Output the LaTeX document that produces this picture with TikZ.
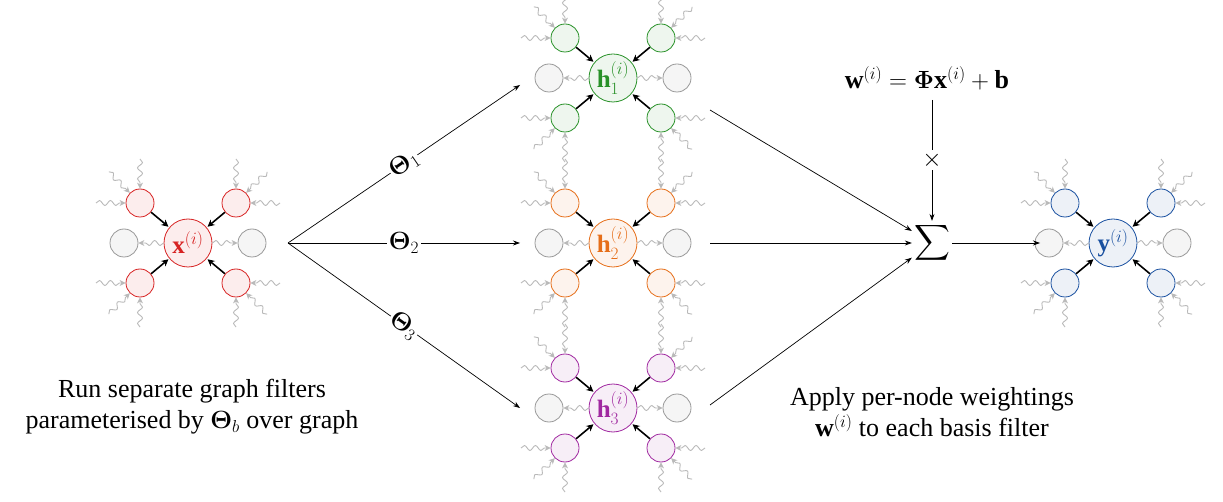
\documentclass[tikz,border=0pt]{standalone}
\usepackage{fontspec}
\setmainfont{Liberation Serif}
\usepackage{amsmath}
\usetikzlibrary{arrows.meta,decorations.pathmorphing,calc}
\definecolor{cR}{RGB}{215,35,35}
\definecolor{cG}{RGB}{40,145,40}
\definecolor{cO}{RGB}{230,110,25}
\definecolor{cP}{RGB}{160,40,160}
\definecolor{cB}{RGB}{25,80,160}
\tikzset{
 big/.style={circle,minimum size=48pt,inner sep=0pt,line width=0.8pt},
 small/.style={circle,minimum size=28pt,inner sep=0pt,line width=0.8pt},
 graynode/.style={small,draw=gray!80,fill=gray!8},
 thickarr/.style={line width=1.6pt,-{Stealth[length=7pt,width=7pt]},shorten >=1pt},
 snakearr/.style={gray!55,line width=0.9pt,-{Stealth[length=6pt,width=6pt]},decorate,decoration={snake,amplitude=2.5pt,segment length=11pt,post length=6pt}},
 arr/.style={line width=0.7pt,-{Stealth[length=7pt,width=5pt]}},
 lab/.style={font=\fontsize{26}{31}\selectfont,align=center}
}
\newcommand\clus[5]{%
\begin{scope}[shift={(#2,#3)}]
\node[big,draw=#4,fill=#4!8,text=#4,font=\fontsize{25}{30}\selectfont] (#1) at (0,0) {#5};
\node[graynode] (#1l) at (-64,0) {};
\node[graynode] (#1r) at (64,0) {};
\draw[snakearr] (#1) -- (#1l);
\draw[snakearr] (#1) -- (#1r);
\foreach \n/\dx/\dy/\a in {tl/-48/-40/225, tr/48/-40/315, bl/-48/40/135, br/48/40/45} {
 \node[small,draw=#4,fill=#4!8] (#1\n) at (\dx,\dy) {};
 \draw[thickarr] (#1\n) -- (#1);
 \foreach \o in {-45,0,45} \draw[snakearr] ($(#1\n)+(\a+\o:44)$) -- (#1\n);
}
\end{scope}}
\begin{document}
\begin{tikzpicture}[x=1pt,y=-1pt]
\useasboundingbox (0,0) rectangle (1223,502);
\clus{x}{188}{243}{cR}{$\mathbf{x}^{(i)}$}
\clus{ha}{613}{78}{cG}{$\mathbf{h}_1^{(i)}$}
\clus{hb}{613}{243}{cO}{$\mathbf{h}_2^{(i)}$}
\clus{hc}{613}{408}{cP}{$\mathbf{h}_3^{(i)}$}
\clus{y}{1113}{243}{cB}{$\mathbf{y}^{(i)}$}
\coordinate (fan) at (288,243);
\coordinate (ea) at (520,85);
\coordinate (eb) at (520,243);
\coordinate (ec) at (520,408);
\draw[arr] (fan) -- node[lab,fill=white,sloped,inner sep=1pt] {$\boldsymbol{\Theta}_1$} (ea);
\draw[arr] (fan) -- node[lab,fill=white,inner sep=2pt] {$\boldsymbol{\Theta}_2$} (eb);
\draw[arr] (fan) -- node[lab,fill=white,sloped,inner sep=1pt] {$\boldsymbol{\Theta}_3$} (ec);
\node[font=\fontsize{26}{30}\selectfont,inner sep=2pt] (sum) at (932,243) {$\displaystyle\sum$};
\node[lab] (w) at (927,78) {$\mathbf{w}^{(i)}=\boldsymbol{\Phi}\mathbf{x}^{(i)}+\mathbf{b}$};
\coordinate (wb) at (932,100);
\node[lab,inner sep=2pt] (times) at (932,160) {$\times$};
\coordinate (sa) at (710,110);
\coordinate (sb) at (710,243);
\coordinate (sc) at (710,405);
\draw[arr] (sa) -- (sum);
\draw[arr] (sb) -- (sum);
\draw[arr] (sc) -- (sum);
\draw[line width=0.7pt] (wb) -- (times);
\draw[arr] (times) -- (sum);
\coordinate (ye) at (1040,243);
\draw[arr] (sum) -- (ye);
\node[lab] (t1) at (192,407) {Run separate graph filters\\parameterised by $\boldsymbol{\Theta}_b$ over graph};
\node[lab] (t2) at (932,412) {Apply per-node weightings\\$\mathbf{w}^{(i)}$ to each basis filter};
\end{tikzpicture}
\end{document}
